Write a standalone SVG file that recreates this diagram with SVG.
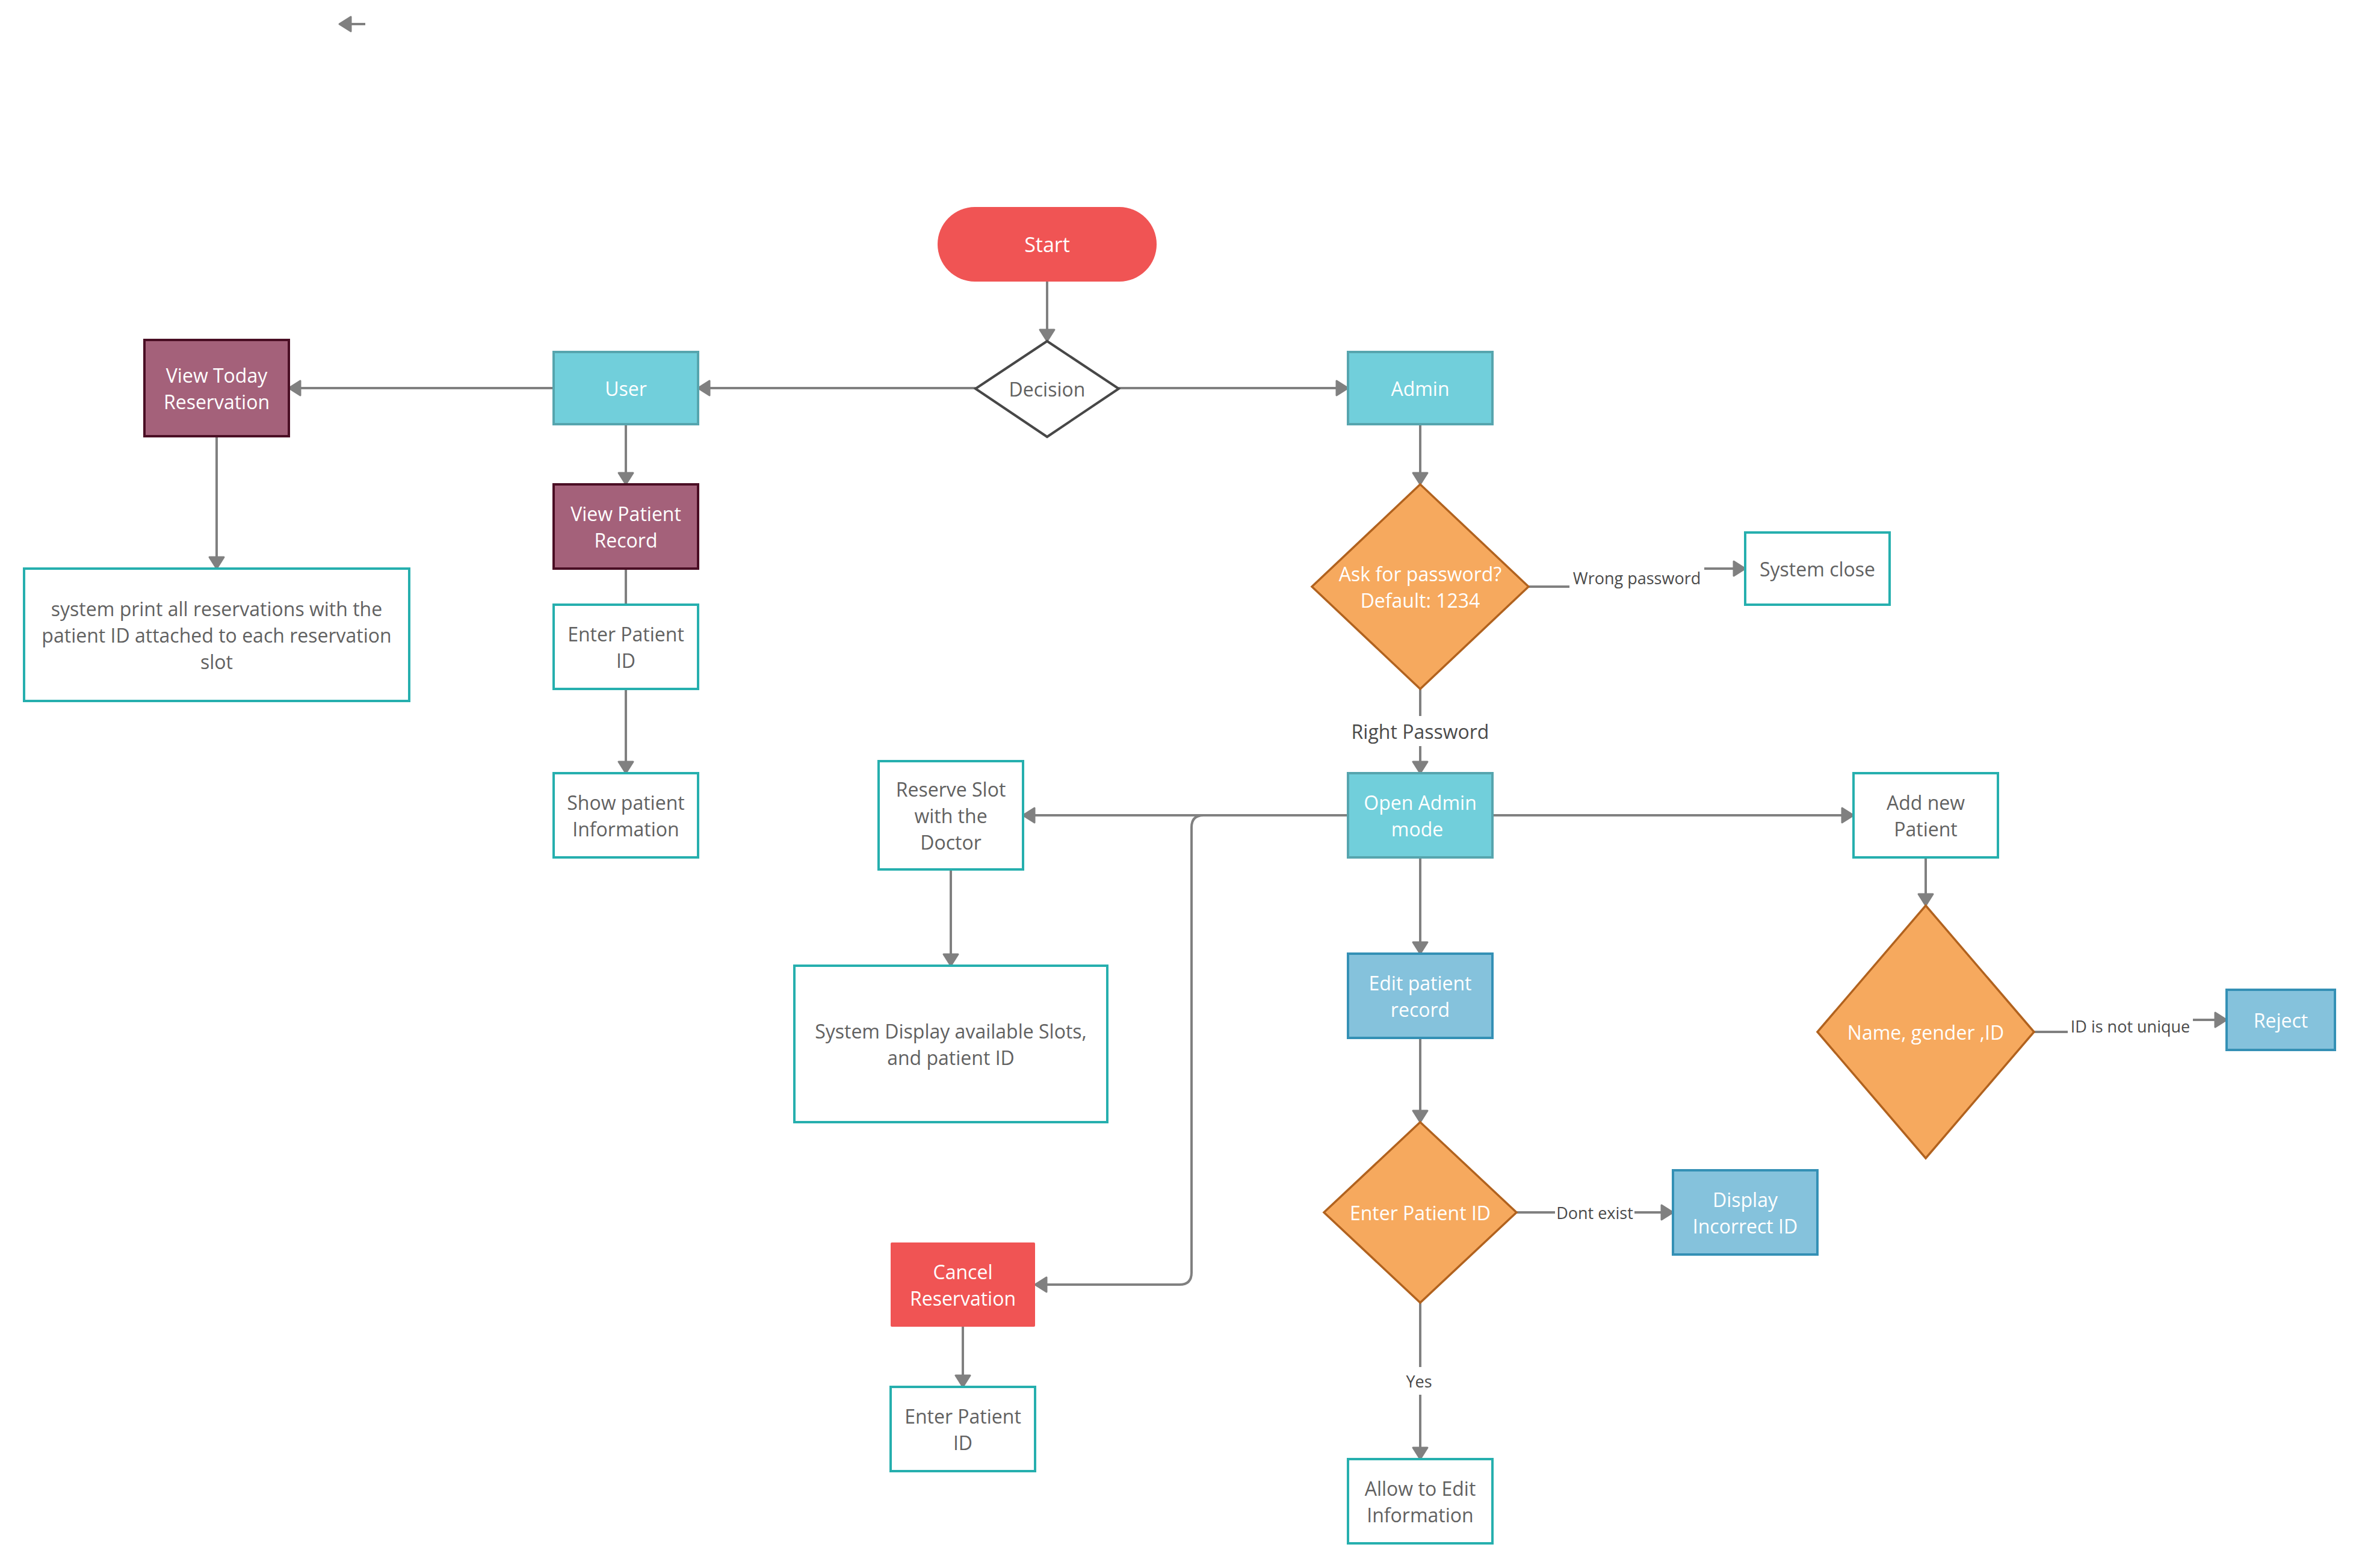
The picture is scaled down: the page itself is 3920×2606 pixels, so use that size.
<svg xmlns="http://www.w3.org/2000/svg" width="3920" height="2606" viewBox="0 0 3920 2606">
<style>
text{font-family:"Open Sans","Noto Sans","Liberation Sans",sans-serif;text-anchor:middle;dominant-baseline:central}
.t{font-size:32px;fill:#616161}
.w{font-size:32px;fill:#ffffff}
.lbl{font-size:27px;fill:#4a4a4a}
.lbg{fill:#ffffff}
.teal{fill:#ffffff;stroke:#26afae;stroke-width:4}
.cyan{fill:#71cfdb;stroke:#56a5ae;stroke-width:4}
.mauve{fill:#a4617a;stroke:#4a0e24;stroke-width:4}
.orange{fill:#f6a95e;stroke:#b1621e;stroke-width:3.5}
.blue{fill:#85c2dc;stroke:#3490b5;stroke-width:4}
.red{fill:#f05454}
.dec{fill:#ffffff;stroke:#474747;stroke-width:4}
.c{fill:none;stroke:#808080;stroke-width:4}
.a{marker-end:url(#ah)}
</style>
<defs>
<marker id="ah" markerUnits="userSpaceOnUse" markerWidth="30" markerHeight="34" refX="22" refY="15" orient="auto">
<path d="M3,3 L22,15 L3,27 Z" fill="#808080" stroke="#808080" stroke-width="3" stroke-linejoin="round"/>
</marker>
</defs>
<rect width="3920" height="2606" fill="#ffffff"/>

<g id="connectors">
<path class="c a" d="M607,40 H564"/>
<path class="c a" d="M1740,468 V567"/>
<path class="c a" d="M1621,645 H1160"/>
<path class="c a" d="M1859,645 H2240"/>
<path class="c a" d="M920,645 H480"/>
<path class="c a" d="M360,725 V945"/>
<path class="c a" d="M1040,705 V805"/>
<path class="c" d="M1040,945 V1005"/>
<path class="c a" d="M1040,1145 V1285"/>
<path class="c a" d="M2360,705 V805"/>
<path class="c a" d="M2540,975 H2720 V945 H2900"/>
<path class="c a" d="M2360,1145 V1285"/>
<path class="c a" d="M2240,1355 H1700"/>
<path class="c a" d="M2240,1355 H2000 Q1980,1355 1980,1375 V2115 Q1980,2135 1960,2135 H1720"/>
<path class="c a" d="M1580,1445 V1605"/>
<path class="c a" d="M1600,2205 V2305"/>
<path class="c a" d="M2360,1425 V1585"/>
<path class="c a" d="M2360,1725 V1865"/>
<path class="c a" d="M2520,2015 H2780"/>
<path class="c a" d="M2360,2165 V2425"/>
<path class="c a" d="M2480,1355 H3080"/>
<path class="c a" d="M3200,1425 V1505"/>
<path class="c a" d="M3380,1715 H3540 V1695 H3700"/>
<g id="labels">
<rect class="lbg" x="2608" y="940" width="224" height="40"/>
<text class="lbl" x="2720" y="960">Wrong password</text>
<rect class="lbg" x="2236" y="1190" width="248" height="50"/>
<text class="t" x="2360" y="1215" style="fill:#4a4a4a">Right Password</text>
<rect class="lbg" x="2584" y="1995" width="132" height="40"/>
<text class="lbl" x="2650" y="2015">Dont exist</text>
<rect class="lbg" x="2330" y="2272" width="60" height="46"/>
<text class="lbl" x="2358" y="2295">Yes</text>
<rect class="lbg" x="3436" y="1685" width="208" height="40"/>
<text class="lbl" x="3540" y="1705">ID is not unique</text>
</g>
</g>

<g id="start"><rect class="red" x="1558" y="344" width="364" height="124" rx="62"/><text class="w" x="1740" y="406" style="font-size:34px">Start</text></g>
<g id="decision"><polygon class="dec" points="1740,567 1859,646 1740,726 1621,646"/><text class="t" x="1740" y="646">Decision</text></g>
<g id="user"><rect class="cyan" x="920" y="585" width="240" height="120"/><text class="w" x="1040" y="645">User</text></g>
<g id="admin"><rect class="cyan" x="2240" y="585" width="240" height="120"/><text class="w" x="2360" y="645">Admin</text></g>
<g id="view-today"><rect class="mauve" x="240" y="565" width="240" height="160"/><text class="w" x="360" y="623">View Today</text><text class="w" x="360" y="667">Reservation</text></g>
<g id="system-print"><rect class="teal" x="40" y="945" width="640" height="220"/><text class="t" x="360" y="1011">system print all reservations with the</text><text class="t" x="360" y="1055">patient ID attached to each reservation</text><text class="t" x="360" y="1099">slot</text></g>
<g id="view-patient"><rect class="mauve" x="920" y="805" width="240" height="140"/><text class="w" x="1040" y="853">View Patient</text><text class="w" x="1040" y="897">Record</text></g>
<g id="enter-id-user"><rect class="teal" x="920" y="1005" width="240" height="140"/><text class="t" x="1040" y="1053">Enter Patient</text><text class="t" x="1040" y="1097">ID</text></g>
<g id="show-patient"><rect class="teal" x="920" y="1285" width="240" height="140"/><text class="t" x="1040" y="1333">Show patient</text><text class="t" x="1040" y="1377">Information</text></g>
<g id="ask-password"><polygon class="orange" points="2360,805 2540,975 2360,1145 2180,975"/><text class="w" x="2360" y="953">Ask for password?</text><text class="w" x="2360" y="997">Default: 1234</text></g>
<g id="system-close"><rect class="teal" x="2900" y="885" width="240" height="120"/><text class="t" x="3020" y="945">System close</text></g>
<g id="open-admin"><rect class="cyan" x="2240" y="1285" width="240" height="140"/><text class="w" x="2360" y="1333">Open Admin</text><text class="w" x="2355" y="1377">mode</text></g>
<g id="reserve-slot"><rect class="teal" x="1460" y="1265" width="240" height="180"/><text class="t" x="1580" y="1311">Reserve Slot</text><text class="t" x="1580" y="1355">with the</text><text class="t" x="1580" y="1399">Doctor</text></g>
<g id="system-display"><rect class="teal" x="1320" y="1605" width="520" height="260"/><text class="t" x="1580" y="1713">System Display available Slots,</text><text class="t" x="1580" y="1757">and patient ID</text></g>
<g id="cancel"><rect class="red" x="1480" y="2065" width="240" height="140" rx="2"/><text class="w" x="1600" y="2113">Cancel</text><text class="w" x="1600" y="2157">Reservation</text></g>
<g id="enter-id-cancel"><rect class="teal" x="1480" y="2305" width="240" height="140"/><text class="t" x="1600" y="2353">Enter Patient</text><text class="t" x="1600" y="2397">ID</text></g>
<g id="edit-record"><rect class="blue" x="2240" y="1585" width="240" height="140"/><text class="w" x="2360" y="1633">Edit patient</text><text class="w" x="2360" y="1677">record</text></g>
<g id="enter-id-decision"><polygon class="orange" points="2360,1865 2520,2015 2360,2165 2200,2015"/><text class="w" x="2360" y="2015">Enter Patient ID</text></g>
<g id="display-incorrect"><rect class="blue" x="2780" y="1945" width="240" height="140"/><text class="w" x="2900" y="1993">Display</text><text class="w" x="2900" y="2037">Incorrect ID</text></g>
<g id="allow-edit"><rect class="teal" x="2240" y="2425" width="240" height="140"/><text class="t" x="2360" y="2473">Allow to Edit</text><text class="t" x="2360" y="2517">Information</text></g>
<g id="add-patient"><rect class="teal" x="3080" y="1285" width="240" height="140"/><text class="t" x="3200" y="1333">Add new</text><text class="t" x="3200" y="1377">Patient</text></g>
<g id="name-gender"><polygon class="orange" points="3200,1505 3380,1715 3200,1925 3020,1715"/><text class="w" x="3200" y="1715">Name, gender ,ID</text></g>
<g id="reject"><rect class="blue" x="3700" y="1645" width="180" height="100"/><text class="w" x="3790" y="1695">Reject</text></g>
</svg>
